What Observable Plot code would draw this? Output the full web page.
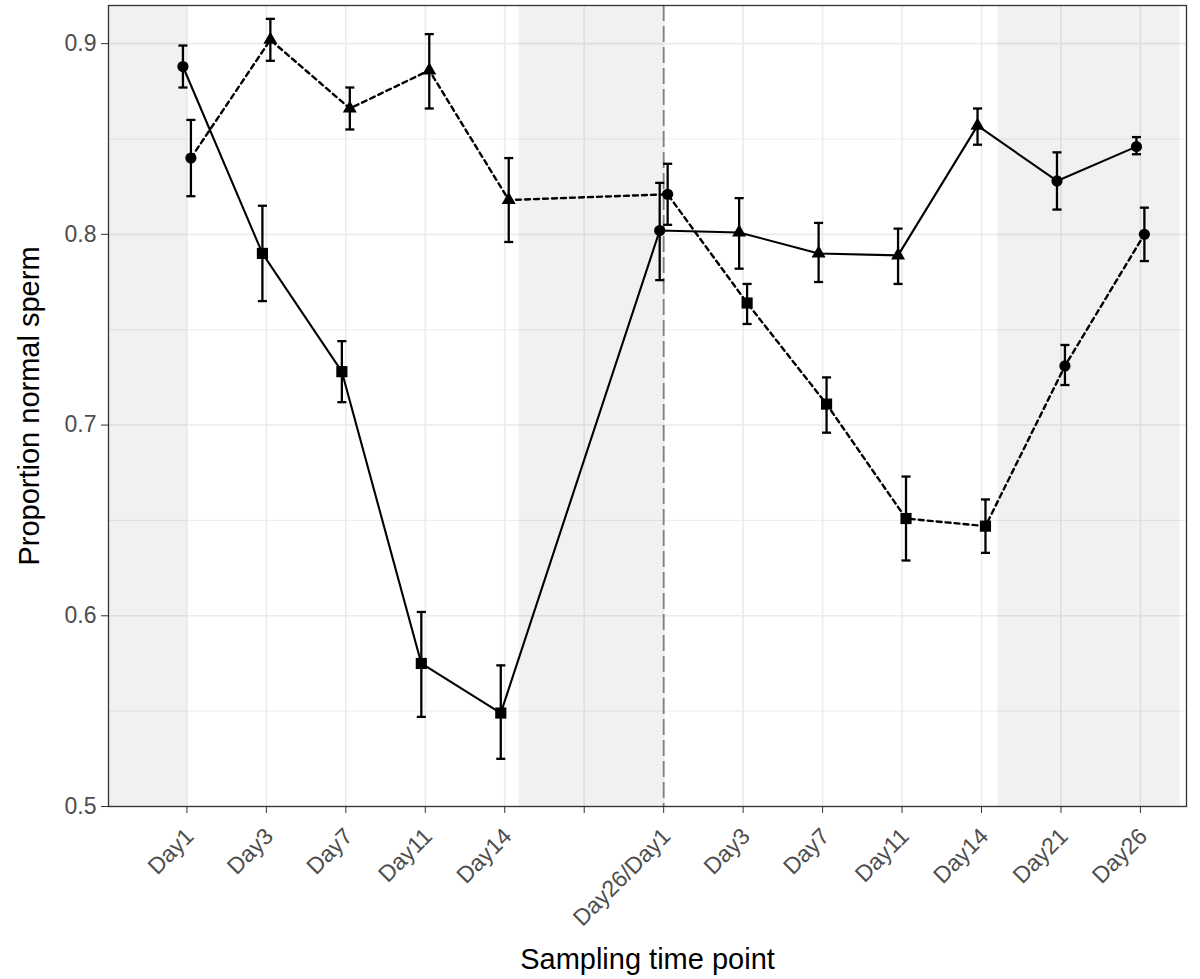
<!DOCTYPE html>
<html>
<head>
<meta charset="utf-8">
<script src="https://cdn.jsdelivr.net/npm/d3@7"></script>
<script src="https://cdn.jsdelivr.net/npm/@observablehq/plot@0.6"></script>
<style>
  html, body { margin: 0; padding: 0; background: #ffffff; }
  #chart { width: 1200px; height: 979px; }
</style>
</head>
<body>
<div id="chart"></div>
<script>
// ---- Data ----
const tickPositions = [1, 2, 3, 4, 5, 6, 7, 8, 9, 10, 11, 12, 13];
const tickLabels = ["Day1", "Day3", "Day7", "Day11", "Day14", "", "Day26/Day1", "Day3", "Day7", "Day11", "Day14", "Day21", "Day26"];
const timePoints = [1, 2, 3, 4, 5, 7, 8, 9, 10, 11, 12, 13];

// Series A (solid line)
const solidMean = [0.888, 0.790, 0.728, 0.575, 0.549, 0.802, 0.801, 0.790, 0.789, 0.857, 0.828, 0.846];
const solidLow  = [0.877, 0.765, 0.712, 0.547, 0.525, 0.776, 0.782, 0.775, 0.774, 0.847, 0.813, 0.842];
const solidHigh = [0.899, 0.815, 0.744, 0.602, 0.574, 0.827, 0.819, 0.806, 0.803, 0.866, 0.843, 0.851];
const solidShape = ["circle", "square", "square", "square", "square", "circle", "triangle", "triangle", "triangle", "triangle", "circle", "circle"];

// Series B (dotted line)
const dottedMean = [0.840, 0.902, 0.866, 0.886, 0.818, 0.821, 0.764, 0.711, 0.651, 0.647, 0.731, 0.800];
const dottedLow  = [0.820, 0.891, 0.855, 0.866, 0.796, 0.805, 0.753, 0.696, 0.629, 0.633, 0.721, 0.786];
const dottedHigh = [0.860, 0.913, 0.877, 0.905, 0.840, 0.837, 0.774, 0.725, 0.673, 0.661, 0.742, 0.814];
const dottedShape = ["circle", "triangle", "triangle", "triangle", "triangle", "circle", "square", "square", "square", "square", "circle", "circle"];

// Shaded periods (x positions on the time-point axis)
const shadeStart = [0.013, 5.18, 11.21];
const shadeEnd   = [1, 7, 13.5];
const phaseBoundary = [7];

const yMajor = [0.5, 0.6, 0.7, 0.8, 0.9];
const yMinor = [0.55, 0.65, 0.75, 0.85];

// ---- Build rows ----
const dodge = 0.05;
const capHalf = 0.057;
const solidRows = timePoints.map((t, i) => ({x: t - dodge, mean: solidMean[i], low: solidLow[i], high: solidHigh[i], shape: solidShape[i]}));
const dottedRows = timePoints.map((t, i) => ({x: t + dodge, mean: dottedMean[i], low: dottedLow[i], high: dottedHigh[i], shape: dottedShape[i]}));
const allRows = solidRows.concat(dottedRows);
const shades = shadeStart.map((s, i) => ({x1: s, x2: shadeEnd[i]}));

const shapeR = {circle: 5.6, square: 6.3, triangle: 5.2};

const font = "'Liberation Sans', Arial, Helvetica, sans-serif";

const chart = Plot.plot({
  width: 1200,
  height: 979,
  marginLeft: 108,
  marginRight: 14,
  marginTop: 5,
  marginBottom: 173,
  style: {fontFamily: font, background: "#ffffff", overflow: "visible"},
  x: {domain: [0.013, 13.58]},
  y: {domain: [0.5, 0.92]},
  marks: [
    // grid
    Plot.ruleY(yMinor, {stroke: "#ebebeb", strokeWidth: 0.9}),
    Plot.ruleY(yMajor, {stroke: "#ebebeb", strokeWidth: 1.6}),
    Plot.ruleX(tickPositions, {stroke: "#ebebeb", strokeWidth: 1.6}),
    // shaded periods
    Plot.rect(shades, {x1: "x1", x2: "x2", fill: "#000000", fillOpacity: 0.055}),
    // boundary line
    Plot.ruleX(phaseBoundary, {stroke: "#7f7f7f", strokeWidth: 1.8, strokeDasharray: "16,5"}),
    // lines
    Plot.line(solidRows, {x: "x", y: "mean", stroke: "#000", strokeWidth: 2.1}),
    Plot.line(dottedRows, {x: "x", y: "mean", stroke: "#000", strokeWidth: 2.4, strokeDasharray: "5,4"}),
    // error bars
    Plot.ruleX(allRows, {x: "x", y1: "low", y2: "high", stroke: "#000", strokeWidth: 2.3}),
    Plot.link(allRows, {x1: d => d.x - capHalf, x2: d => d.x + capHalf, y1: "high", y2: "high", stroke: "#000", strokeWidth: 2.3}),
    Plot.link(allRows, {x1: d => d.x - capHalf, x2: d => d.x + capHalf, y1: "low", y2: "low", stroke: "#000", strokeWidth: 2.3}),
    // points
    ...["circle", "square", "triangle"].map(s =>
      Plot.dot(allRows.filter(d => d.shape === s), {x: "x", y: "mean", symbol: s, r: shapeR[s], fill: "#000", stroke: "none"})
    ),
    // frame
    Plot.frame({stroke: "#333333", strokeWidth: 1.3}),
    // axes
    Plot.axisY({ticks: yMajor, tickFormat: d3.format(".1f"), fontSize: 23, tickSize: 7, tickPadding: 5, stroke: "#333333", fill: "#4d4d4d", label: null}),
    Plot.axisX({ticks: tickPositions, tickFormat: () => "", tickSize: 7, stroke: "#333333", label: null}),
    Plot.axisX({ticks: tickPositions, tickFormat: d => tickLabels[d - 1], tickRotate: -45, fontSize: 23, tickSize: 0, tickPadding: 11, dx: 3, dy: 15, fill: "#4d4d4d", label: null}),
    // axis titles
    Plot.text(["Proportion normal sperm"], {frameAnchor: "left", dx: -79, rotate: -90, textAnchor: "middle", lineAnchor: "middle", fontSize: 29, fill: "#000", text: d => d}),
    Plot.text(["Sampling time point"], {frameAnchor: "bottom", dy: 162, fontSize: 29, fill: "#000", text: d => d})
  ]
});
document.getElementById("chart").appendChild(chart);
</script>
</body>
</html>
